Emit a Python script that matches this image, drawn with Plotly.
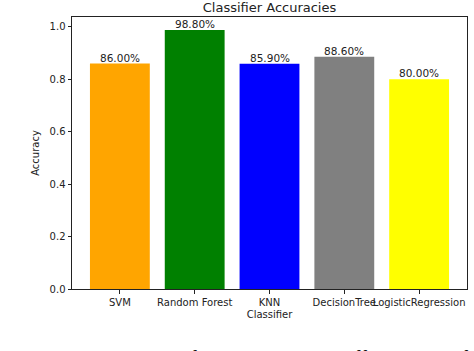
import plotly.graph_objects as go

classifiers = ["SVM", "Random Forest", "KNN", "DecisionTree", "LogisticRegression"]
accuracies = [0.86, 0.988, 0.859, 0.886, 0.80]
colors = ["#FFA500", "#008000", "#0000FF", "#808080", "#FFFF00"]
y_ticks = [0.0, 0.2, 0.4, 0.6, 0.8, 1.0]
title = "Classifier Accuracies"
caption = "Fig. 11. Comparison of accuracies with different classifiers"

W, H = 474, 351
L, R, T, B = 72, 7, 17, 62
plot_w = W - L - R
plot_h = H - T - B

xs = list(range(len(classifiers)))
labels = [f"{v*100:.2f}%" for v in accuracies]

fig = go.Figure()
fig.add_trace(go.Bar(
    x=xs, y=accuracies, width=0.8,
    marker=dict(color=colors, line=dict(width=0)),
    hoverinfo="skip",
))

for x, v, t in zip(xs, accuracies, labels):
    fig.add_annotation(x=x, y=v, text=t, showarrow=False, yanchor="bottom",
                       xanchor="center", yshift=-2,
                       font=dict(family="DejaVu Sans", size=10.5, color="#222"))

fig.add_annotation(xref="paper", yref="paper", x=-L / plot_w, y=-(344 - (H - B)) / plot_h,
                   xanchor="left", yanchor="top", showarrow=False, text=caption,
                   font=dict(family="Liberation Serif", size=21, color="#111"))

axis_common = dict(showline=True, linecolor="#222", linewidth=1, mirror=True,
                   ticks="outside", ticklen=3.5, tickwidth=1, tickcolor="#222",
                   showgrid=False, zeroline=False,
                   tickfont=dict(family="DejaVu Sans", size=10, color="#222"))

fig.update_layout(
    width=W, height=H,
    margin=dict(l=L, r=R, t=T, b=B, pad=0),
    paper_bgcolor="white", plot_bgcolor="white",
    showlegend=False,
    title=dict(text=title, x=0.5 * (L + (W - R)) / W, xanchor="center",
               y=1 - 7 / H, yanchor="middle",
               font=dict(family="DejaVu Sans", size=13, color="#222")),
    xaxis=dict(range=[-0.64, 4.64], tickvals=xs, ticktext=classifiers, tickangle=0,
               title=dict(text="Classifier", standoff=4,
                          font=dict(family="DejaVu Sans", size=10, color="#222")),
               **axis_common),
    yaxis=dict(range=[0, 1.0374], tickvals=y_ticks, ticktext=[f"{v:.1f}" for v in y_ticks],
               title=dict(text="Accuracy", standoff=8,
                          font=dict(family="DejaVu Sans", size=10, color="#222")),
               **axis_common),
)

fig.write_html("out.html")
